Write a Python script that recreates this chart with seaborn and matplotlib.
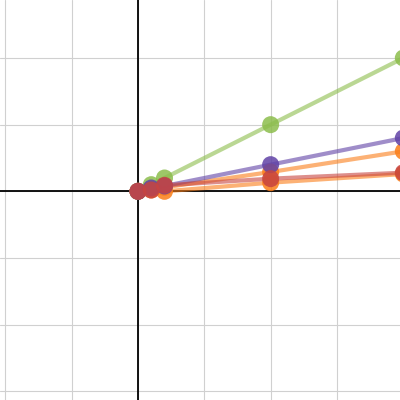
import matplotlib
matplotlib.use("Agg")
import matplotlib.pyplot as plt
import seaborn as sns
import numpy as np

x_vals = [0, 0.2, 0.4, 2, 4]
green = [0, 0.1, 0.2, 1.0, 2.0]
purple = [0, 0.05, 0.08, 0.4, 0.8]
orange_hi = [0, 0.03, 0.06, 0.29, 0.6]
orange_lo = [0, 0.02, 0.0, 0.13, 0.26]
red = [0, 0.02, 0.09, 0.19, 0.28]

series = [
    (orange_lo, "#fa7e19"),
    (orange_hi, "#fa7e19"),
    (green, "#8cbd4c"),
    (purple, "#6042a6"),
    (red, "#c74440"),
]

sns.set_style("white")
fig, ax = plt.subplots(figsize=(4, 4), dpi=100)
fig.subplots_adjust(0, 0, 1, 1)

for xv in np.arange(-2, 5, 1):
    ax.axvline(xv, color="#d0d0d0", lw=0.8, zorder=0)
for yv in np.arange(-3, 3, 1):
    ax.axhline(yv, color="#d0d0d0", lw=0.8, zorder=0)
ax.axhline(0, color="black", lw=1.3, zorder=1)
ax.axvline(0, color="black", lw=1.3, zorder=1)

for ys, c in series:
    sns.lineplot(x=x_vals, y=ys, ax=ax, color=c, lw=3, alpha=0.6, zorder=3)
    sns.scatterplot(x=x_vals, y=ys, ax=ax, color=c, s=150, alpha=0.85,
                    edgecolor="none", zorder=4)

ax.set_xlim(-2.08, 3.95)
ax.set_ylim(-3.13, 2.87)
ax.set_xticks([])
ax.set_yticks([])
for s in ax.spines.values():
    s.set_visible(False)
fig.savefig("out.png", dpi=100)
